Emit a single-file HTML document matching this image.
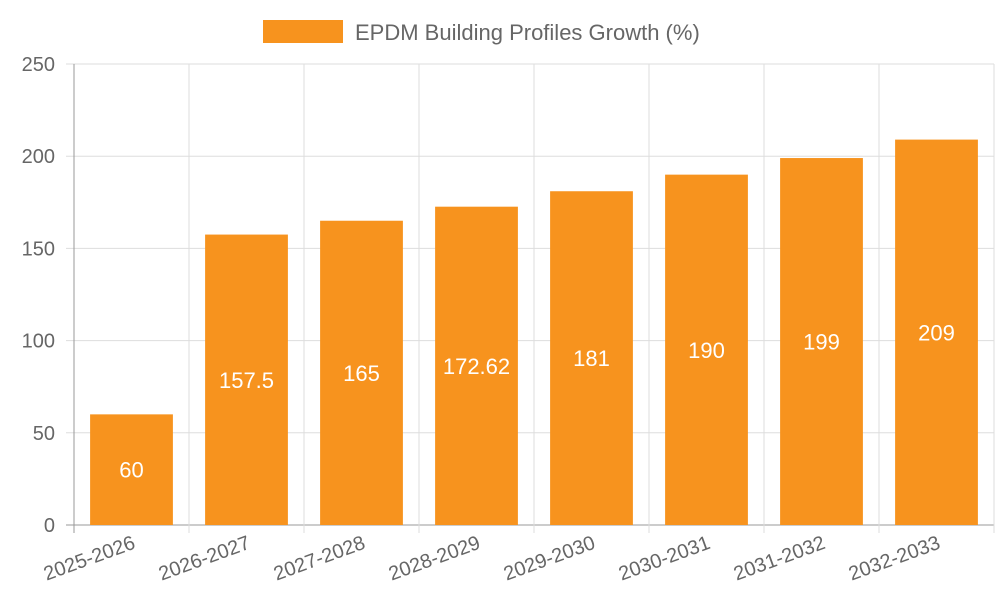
<!DOCTYPE html>
<html><head><meta charset="utf-8"><style>
html,body{margin:0;padding:0;background:#fff;}
svg{display:block;font-family:"Liberation Sans",sans-serif;}
</style></head><body>
<svg id="chart" width="1000" height="600"></svg>
<script>
const categories=["2025-2026","2026-2027","2027-2028","2028-2029","2029-2030","2030-2031","2031-2032","2032-2033"];
const values=[60,157.5,165,172.62,181,190,199,209];
const valueLabels=["60","157.5","165","172.62","181","190","199","209"];
const yTicks=[0,50,100,150,200,250];
const NS="http://www.w3.org/2000/svg";
const svg=document.getElementById('chart');
const L=74,R=994,T=64,B=525,yMax=250;
const bw=(R-L)/categories.length;
const y=v=>B-(v/yMax)*(B-T);
const x=i=>L+i*bw;
function mk(tag,attrs,parent){const e=document.createElementNS(NS,tag);for(const k in attrs)e.setAttribute(k,attrs[k]);(parent||svg).appendChild(e);return e;}
// grid
yTicks.forEach(t=>{
 const g=mk('line',{x1:66,x2:R,y1:y(t),y2:y(t),stroke:t===0?'#999':'#ddd','stroke-width':1});
 
 
 const tx=mk('text',{x:55,y:y(t)+7,'text-anchor':'end','font-size':20,fill:'#666'});
 tx.textContent=t;
 
 
});
for(let i=0;i<=categories.length;i++){
 const g=mk('line',{x1:x(i),x2:x(i),y1:T,y2:B+8,stroke:i===0?'#999':'#ddd','stroke-width':1});
 
 
}
categories.forEach((c,i)=>{
 const cx=x(i)+bw/2, bwid=bw*0.72;
 const r=mk('rect',{x:cx-bwid/2,y:y(values[i]),width:bwid,height:B-y(values[i]),fill:'#f7931e'});
 
 
 const vt=mk('text',{x:cx,y:(y(values[i])+B)/2+8,'text-anchor':'middle','font-size':22,fill:'#fff'});
 vt.textContent=valueLabels[i];
 
 
 const lt=mk('text',{x:cx+5,y:548,'text-anchor':'end','font-size':20,fill:'#666',transform:`rotate(-20 ${cx+5} 548)`});
 lt.textContent=c;
 
 
});
const lg=mk('rect',{x:263,y:20,width:80,height:23,fill:'#f7931e'});


const lt=mk('text',{x:355,y:40,'font-size':22,fill:'#666'});
lt.textContent="EPDM Building Profiles Growth (%)";


</script>
</body></html>
